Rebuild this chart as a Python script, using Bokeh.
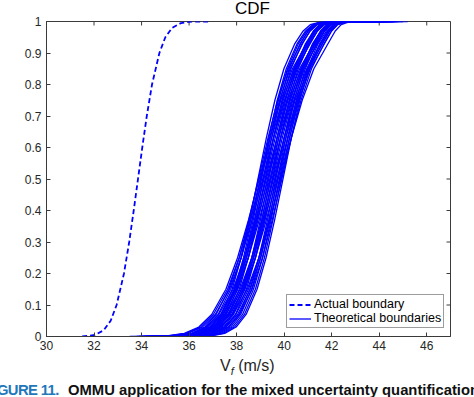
from bokeh.plotting import figure
from bokeh.models import Legend, LegendItem, FixedTicker, Div
from bokeh.layouts import column
from bokeh.embed import file_html
from bokeh.resources import INLINE
import math

# ---------------- data ----------------
X_TICKS = [30, 32, 34, 36, 38, 40, 42, 44, 46]
Y_TICKS = [0, 0.1, 0.2, 0.3, 0.4, 0.5, 0.6, 0.7, 0.8, 0.9, 1]
Y_TICK_LABELS = ["0", "0.1", "0.2", "0.3", "0.4", "0.5", "0.6", "0.7", "0.8", "0.9", "1"]
X_MIN, X_MAX = 30, 47
Y_MIN, Y_MAX = 0, 1

# Actual boundary (dashed)
ACTUAL_X = [31.5, 32.04, 32.41, 32.70, 32.95, 33.26, 33.48, 33.67, 33.85, 34.03,
            34.22, 34.44, 34.75, 35.0, 35.29, 35.66, 36.0, 36.3, 36.8]
ACTUAL_F = [0.0, 0.005, 0.02, 0.05, 0.1, 0.2, 0.3, 0.4, 0.5, 0.6,
            0.7, 0.8, 0.9, 0.95, 0.98, 0.995, 0.999, 1.0, 1.0]

# Theoretical boundaries: x value of every curve at these CDF levels
THEO_F = [0.0, 0.002, 0.01, 0.03, 0.07, 0.15, 0.25, 0.37, 0.5, 0.63, 0.75, 0.85, 0.93, 0.97, 0.99, 0.998, 1.0]
THEO_C01 = [34.6, 35.88, 36.45, 36.93, 37.35, 37.81, 38.19, 38.55, 38.90, 39.25, 39.61, 39.99, 40.45, 40.80, 41.10, 41.50, 42.9]
THEO_C02 = [33.5, 35.06, 35.80, 36.41, 36.95, 37.55, 38.04, 38.50, 38.95, 39.40, 39.86, 40.35, 40.95, 41.25, 41.50, 41.80, 44.2]
THEO_C03 = [34.2, 35.54, 36.20, 36.74, 37.22, 37.75, 38.19, 38.60, 39.00, 39.40, 39.81, 40.25, 40.78, 41.08, 41.35, 41.70, 43.6]
THEO_C04 = [35.0, 36.03, 36.60, 37.08, 37.50, 37.96, 38.34, 38.70, 39.05, 39.40, 39.76, 40.14, 40.60, 40.95, 41.25, 41.65, 43.0]
THEO_C05 = [33.9, 35.21, 35.95, 36.56, 37.10, 37.70, 38.19, 38.65, 39.10, 39.55, 40.01, 40.50, 41.10, 41.40, 41.65, 41.95, 44.4]
THEO_C06 = [34.5, 35.69, 36.35, 36.89, 37.37, 37.90, 38.34, 38.75, 39.15, 39.55, 39.96, 40.40, 40.93, 41.23, 41.50, 41.85, 43.7]
THEO_C07 = [35.2, 36.18, 36.75, 37.23, 37.65, 38.11, 38.49, 38.85, 39.20, 39.55, 39.91, 40.29, 40.75, 41.10, 41.40, 41.80, 43.2]
THEO_C08 = [34.1, 35.36, 36.10, 36.71, 37.25, 37.85, 38.34, 38.80, 39.25, 39.70, 40.16, 40.65, 41.25, 41.55, 41.80, 42.10, 44.6]
THEO_C09 = [34.8, 35.84, 36.50, 37.04, 37.52, 38.05, 38.49, 38.90, 39.30, 39.70, 40.11, 40.55, 41.08, 41.38, 41.65, 42.00, 43.9]
THEO_C10 = [35.3, 36.33, 36.90, 37.38, 37.80, 38.26, 38.64, 39.00, 39.35, 39.70, 40.06, 40.44, 40.90, 41.25, 41.55, 41.95, 43.3]
THEO_C11 = [34.3, 35.51, 36.25, 36.86, 37.40, 38.00, 38.49, 38.95, 39.40, 39.85, 40.31, 40.80, 41.40, 41.70, 41.95, 42.25, 44.7]
THEO_C12 = [34.9, 35.99, 36.65, 37.19, 37.67, 38.20, 38.64, 39.05, 39.45, 39.85, 40.26, 40.70, 41.23, 41.53, 41.80, 42.15, 44.0]
THEO_C13 = [35.5, 36.48, 37.05, 37.53, 37.95, 38.41, 38.79, 39.15, 39.50, 39.85, 40.21, 40.59, 41.05, 41.40, 41.70, 42.10, 43.5]
THEO_C14 = [34.4, 35.66, 36.40, 37.01, 37.55, 38.15, 38.64, 39.10, 39.55, 40.00, 40.46, 40.95, 41.55, 41.85, 42.10, 42.40, 44.8]
THEO_C15 = [35.0, 36.14, 36.80, 37.34, 37.82, 38.35, 38.79, 39.20, 39.60, 40.00, 40.41, 40.85, 41.38, 41.68, 41.95, 42.30, 44.1]
THEO_C16 = [35.6, 36.63, 37.20, 37.68, 38.10, 38.56, 38.94, 39.30, 39.65, 40.00, 40.36, 40.74, 41.20, 41.55, 41.85, 42.25, 43.6]
THEO_C17 = [34.6, 35.81, 36.55, 37.16, 37.70, 38.30, 38.79, 39.25, 39.70, 40.15, 40.61, 41.10, 41.70, 42.00, 42.25, 42.55, 45.0]
THEO_C18 = [35.2, 36.29, 36.95, 37.49, 37.97, 38.50, 38.94, 39.35, 39.75, 40.15, 40.56, 41.00, 41.53, 41.83, 42.10, 42.45, 44.3]
THEO_C19 = [35.7, 36.78, 37.35, 37.83, 38.25, 38.71, 39.09, 39.45, 39.80, 40.15, 40.51, 40.89, 41.35, 41.70, 42.00, 42.40, 43.8]
THEO_C20 = [34.7, 35.96, 36.70, 37.31, 37.85, 38.45, 38.94, 39.40, 39.85, 40.30, 40.76, 41.25, 41.85, 42.15, 42.40, 42.70, 45.2]
THEO_C21 = [35.3, 36.44, 37.10, 37.64, 38.12, 38.65, 39.09, 39.50, 39.90, 40.30, 40.71, 41.15, 41.68, 41.98, 42.25, 42.60, 44.5]
THEO_C22 = [35.8, 36.93, 37.50, 37.98, 38.40, 38.86, 39.24, 39.60, 39.95, 40.30, 40.66, 41.04, 41.50, 41.85, 42.15, 42.55, 43.9]
THEO_C23 = [34.0, 35.46, 36.12, 36.66, 37.14, 37.67, 38.11, 38.52, 38.92, 39.32, 39.73, 40.17, 40.70, 41.00, 41.27, 41.62, 43.4]
THEO_C24 = [33.8, 35.13, 35.87, 36.48, 37.02, 37.62, 38.11, 38.57, 39.02, 39.47, 39.93, 40.42, 41.02, 41.32, 41.57, 41.87, 44.0]
THEO_C25 = [35.1, 36.10, 36.67, 37.15, 37.57, 38.03, 38.41, 38.77, 39.12, 39.47, 39.83, 40.21, 40.67, 41.02, 41.32, 41.72, 42.9]
THEO_C26 = [34.7, 35.76, 36.42, 36.96, 37.44, 37.97, 38.41, 38.82, 39.22, 39.62, 40.03, 40.47, 41.00, 41.30, 41.57, 41.92, 43.5]
THEO_C27 = [34.2, 35.43, 36.17, 36.78, 37.32, 37.92, 38.41, 38.87, 39.32, 39.77, 40.23, 40.72, 41.32, 41.62, 41.87, 42.17, 44.3]
THEO_C28 = [35.4, 36.40, 36.97, 37.45, 37.87, 38.33, 38.71, 39.07, 39.42, 39.77, 40.13, 40.51, 40.97, 41.32, 41.62, 42.02, 43.1]
THEO_C29 = [34.9, 36.06, 36.72, 37.26, 37.74, 38.27, 38.71, 39.12, 39.52, 39.92, 40.33, 40.77, 41.30, 41.60, 41.87, 42.22, 43.8]
THEO_C30 = [34.5, 35.73, 36.47, 37.08, 37.62, 38.22, 38.71, 39.17, 39.62, 40.07, 40.53, 41.02, 41.62, 41.92, 42.17, 42.47, 44.6]
THEO_C31 = [35.6, 36.70, 37.27, 37.75, 38.17, 38.63, 39.01, 39.37, 39.72, 40.07, 40.43, 40.81, 41.27, 41.62, 41.92, 42.32, 43.4]
THEO_C32 = [35.2, 36.36, 37.02, 37.56, 38.04, 38.57, 39.01, 39.42, 39.82, 40.22, 40.63, 41.07, 41.60, 41.90, 42.17, 42.52, 44.2]
THEO_C33 = [35.9, 36.86, 37.43, 37.91, 38.33, 38.79, 39.17, 39.53, 39.88, 40.23, 40.59, 40.97, 41.43, 41.78, 42.08, 42.48, 43.7]
THEO_C34 = [34.9, 35.98, 36.55, 37.03, 37.45, 37.91, 38.29, 38.65, 39.00, 39.35, 39.71, 40.09, 40.55, 40.90, 41.20, 41.60, 43.0]

THEO_CURVES = [THEO_C01, THEO_C02, THEO_C03, THEO_C04, THEO_C05, THEO_C06, THEO_C07, THEO_C08,
               THEO_C09, THEO_C10, THEO_C11, THEO_C12, THEO_C13, THEO_C14, THEO_C15, THEO_C16,
               THEO_C17, THEO_C18, THEO_C19, THEO_C20, THEO_C21, THEO_C22, THEO_C23, THEO_C24,
               THEO_C25, THEO_C26, THEO_C27, THEO_C28, THEO_C29, THEO_C30, THEO_C31, THEO_C32,
               THEO_C33, THEO_C34]

TITLE = "CDF"
X_LABEL_MAIN = "V"
X_LABEL_SUB = "f"
X_LABEL_UNIT = "(m/s)"
CAPTION_HEAD = "FIGURE 11."
CAPTION_TEXT = "OMMU application for the mixed uncertainty quantification"

AXIS_COLOR = "#3a3a3a"
TEXT_COLOR = "#262626"
FONT = "Liberation Sans"

# ---------------- title as HTML text ----------------
title_div = Div(
    text=('<div style="margin-left:235px; white-space:nowrap; '
          'font-family:\'Liberation Sans\'; font-size:17px; line-height:17px; color:#000000;">%s</div>')
         % TITLE,
    width=474, height=14, margin=0)

# ---------------- figure ----------------
p = figure(width=474, height=342, x_range=(X_MIN, X_MAX), y_range=(Y_MIN, Y_MAX),
           title=None, output_backend="svg", toolbar_location=None,
           min_border_left=46, min_border_right=24, min_border_top=7, min_border_bottom=20)
p.grid.visible = False
p.outline_line_color = AXIS_COLOR
p.outline_line_width = 1
p.background_fill_color = "white"
p.border_fill_color = "white"

p.xaxis.ticker = FixedTicker(ticks=X_TICKS)
p.yaxis.ticker = FixedTicker(ticks=Y_TICKS)
p.yaxis.major_label_overrides = {t: l for t, l in zip(Y_TICKS, Y_TICK_LABELS)}

for ax in (p.xaxis[0], p.yaxis[0]):
    ax.major_tick_in = 4
    ax.major_tick_out = 0
    ax.minor_tick_line_color = None
    ax.axis_line_color = AXIS_COLOR
    ax.major_tick_line_color = AXIS_COLOR
    ax.major_label_text_font = FONT
    ax.major_label_text_font_size = "12px"
    ax.major_label_text_color = TEXT_COLOR
p.xaxis.major_label_standoff = 4
p.yaxis.major_label_standoff = 5

# mirrored ticks on the top and right edges of the box
p.ray(x=X_TICKS, y=[Y_MAX] * len(X_TICKS), length=4, length_units="screen",
      angle=-math.pi / 2, line_color=AXIS_COLOR, line_width=1)
p.ray(x=[X_MAX] * len(Y_TICKS), y=Y_TICKS, length=4, length_units="screen",
      angle=math.pi, line_color=AXIS_COLOR, line_width=1)

# ---------------- glyphs ----------------
r_theo = p.multi_line(xs=THEO_CURVES, ys=[THEO_F for _ in THEO_CURVES],
                      line_color="#0000ff", line_width=1.3)
r_actual = p.line(ACTUAL_X, ACTUAL_F, line_color="#0000ff", line_width=1.8, line_dash="5 3")

legend = Legend(items=[LegendItem(label="Actual boundary", renderers=[r_actual]),
                       LegendItem(label="Theoretical boundaries", renderers=[r_theo])],
                location=(240, 8), orientation="vertical",
                border_line_color=AXIS_COLOR, border_line_width=1,
                background_fill_color="white", background_fill_alpha=1,
                padding=2, margin=0, spacing=0,
                glyph_width=22, glyph_height=13, label_height=13, label_standoff=3,
                label_text_font=FONT, label_text_font_size="12.5px", label_text_color="#000000")
p.add_layout(legend)

# ---------------- x-axis label and caption as HTML text ----------------
xlabel = Div(
    text=('<div style="position:relative; top:2px; margin-left:220px; white-space:nowrap; '
          'font-family:\'Liberation Sans\'; font-size:16px; line-height:16px; color:%s;">'
          '%s<span style="position:relative; top:4px; font-size:11px; font-style:italic;">%s</span>'
          '&nbsp;%s</div>') % (TEXT_COLOR, X_LABEL_MAIN, X_LABEL_SUB, X_LABEL_UNIT),
    width=474, height=20, margin=0)

caption = Div(
    text=('<div style="position:relative; top:6px; left:-15px; white-space:nowrap; '
          'font-family:\'Liberation Sans\'; font-size:14.8px; line-height:16px; font-weight:bold; '
          'color:#111111;">'
          '<span style="display:inline-block; width:73px; letter-spacing:-0.6px; color:#2277bb;">%s</span>'
          '<span style="display:inline-block; margin-left:10px;">%s</span></div>')
         % (CAPTION_HEAD, CAPTION_TEXT),
    width=474, height=21, margin=0, styles={"overflow": "hidden"})

layout = column(title_div, p, xlabel, caption, spacing=0)

open("out.html", "w").write(file_html(layout, INLINE))
